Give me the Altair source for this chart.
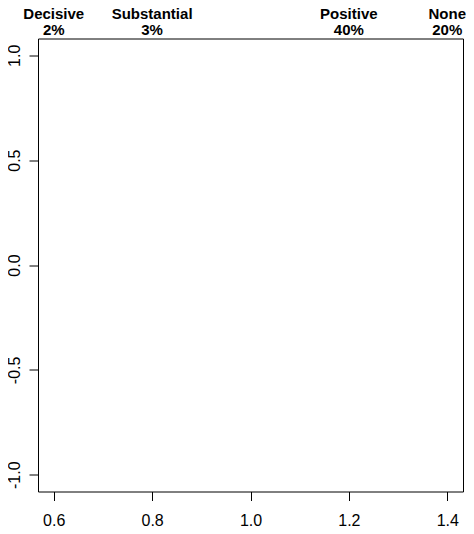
import altair as alt
import pandas as pd

categories = ["Decisive", "Substantial", "Positive", "None"]
percents = ["2%", "3%", "40%", "20%"]
positions = [0.6, 0.8, 1.2, 1.4]
x_ticks = [0.6, 0.8, 1.0, 1.2, 1.4]
y_ticks = [-1.0, -0.5, 0.0, 0.5, 1.0]

df = pd.DataFrame({"pos": positions, "cat": categories, "pct": percents})

FONT = "Liberation Sans"
label_expr = "replace(format(datum.value, '.1f'), '\u2212', '-')"

x_enc = alt.X(
    "pos:Q",
    scale=alt.Scale(domain=[0.568, 1.432], nice=False, zero=False),
    axis=alt.Axis(
        values=x_ticks, labelExpr=label_expr, title=None, domain=False, grid=False,
        tickColor="black", tickSize=9, labelFontSize=16, labelColor="black",
        labelPadding=25, labelBaseline="alphabetic", labelFont=FONT, labelFlush=False,
    ),
)
y_enc = alt.YDatum(
    1.08,
    scale=alt.Scale(domain=[-1.08, 1.08], nice=False, zero=False),
    axis=alt.Axis(
        values=y_ticks, labelExpr=label_expr, title=None, domain=False, grid=False,
        tickColor="black", tickSize=9, labelFontSize=16, labelColor="black",
        labelPadding=9.5, labelAngle=270, labelAlign="center", labelBaseline="alphabetic",
        labelFont=FONT, labelFlush=False,
    ),
)

base = alt.Chart(df)
cat_text = base.mark_text(
    font=FONT, fontSize=15, fontWeight="bold", color="black", baseline="alphabetic", dy=-19.3
).encode(x=x_enc, y=y_enc, text="cat:N")
pct_text = base.mark_text(
    font=FONT, fontSize=15, fontWeight="bold", color="black", baseline="alphabetic", dy=-3.5
).encode(x=x_enc, y=y_enc, text="pct:N")

chart = (
    alt.layer(cat_text, pct_text)
    .properties(
        width=425, height=453,
        autosize=alt.AutoSizeParams(type="none"),
        padding={"left": 30, "top": 30.5, "right": 3, "bottom": 34.5},
    )
    .configure_view(stroke="black", strokeWidth=1)
)

chart.save("out.html", embed_options={"renderer": "svg", "actions": False})
